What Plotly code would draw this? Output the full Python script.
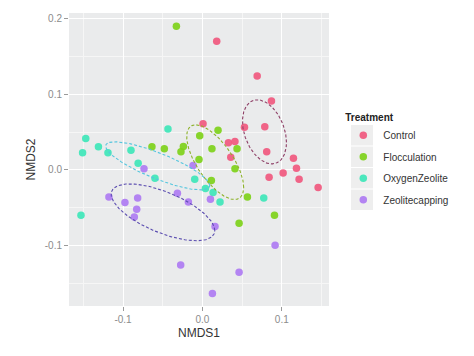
import numpy as np
import plotly.graph_objects as go

# ---- data ----
treatments = ["Control", "Flocculation", "OxygenZeolite", "Zeolitecapping"]

control_x = [0.018, 0.069, 0.087, 0.053, 0.0786, 0.081, 0.0008, 0.0328, 0.041, 0.0357,
             0.1147, 0.1185, 0.084, 0.1017, 0.1218, 0.1458]
control_y = [0.170, 0.124, 0.091, 0.0565, 0.057, 0.024, 0.061, 0.036, 0.0375, 0.0168,
             0.0155, 0.0022, -0.0097, -0.004, -0.0124, -0.0234]

floc_x = [-0.0328, 0.0197, -0.0034, -0.0636, -0.048, -0.024, -0.027, 0.012, 0.0436,
          -0.0043, 0.041, 0.0113, 0.0567, 0.0908, 0.0462]
floc_y = [0.190, 0.0525, 0.045, 0.0305, 0.028, 0.031, 0.024, 0.028, 0.028,
          0.0137, 0.0013, -0.0141, -0.0358, -0.060, -0.0707]

oxy_x = [-0.0434, -0.147, -0.131, -0.151, -0.119, -0.090, -0.081, -0.0598, -0.0097,
         0.0038, 0.0134, 0.0222, 0.0773, -0.153]
oxy_y = [0.054, 0.0415, 0.0305, 0.0225, 0.0225, 0.026, 0.0089, -0.011, -0.0123,
         -0.0247, -0.030, -0.0424, -0.0371, -0.060]

zeo_x = [-0.0736, -0.0118, -0.1178, -0.0976, -0.0816, -0.0828, -0.0858, -0.0315,
         -0.0177, 0.0101, 0.0159, 0.0916, -0.0274, 0.0462, 0.0126]
zeo_y = [0.0013, 0.0057, -0.0358, -0.0433, -0.0371, -0.052, -0.0623, -0.0309,
         -0.0424, -0.0389, -0.075, -0.0998, -0.126, -0.1355, -0.1634]

# ellipse statistics per treatment: centre, x half-extent, y half-extent, correlation
ell_cx = [0.0782, 0.0161, -0.0564, -0.0497]
ell_cy = [0.0503, 0.0102, 0.0053, -0.0562]
ell_rx = [0.0277, 0.0359, 0.0656, 0.0653]
ell_ry = [0.0424, 0.0494, 0.0318, 0.0376]
ell_r = [-0.33, -0.68, -0.82, -0.64]

x_ticks = [-0.1, 0.0, 0.1]
x_ticklabels = ["-0.1", "0.0", "0.1"]
y_ticks = [-0.1, 0.0, 0.1, 0.2]
y_ticklabels = ["-0.1", "0.0", "0.1", "0.2"]

# ---- styles ----
point_colors = ["#F0587E", "#7ED11A", "#3EE6B8", "#AE7BF2"]
ellipse_colors = ["#8E3F66", "#8DB22A", "#55C6DE", "#5B4DB0"]

xs = [control_x, floc_x, oxy_x, zeo_x]
ys = [control_y, floc_y, oxy_y, zeo_y]

fig = go.Figure()
for name, x, y, c in zip(treatments, xs, ys, point_colors):
    fig.add_trace(go.Scatter(x=x, y=y, mode="markers", name=name, legendgroup=name,
                             marker=dict(color=c, size=7.5, opacity=0.92, line=dict(width=0))))

t = np.linspace(0, 2 * np.pi, 200)
for i, c in enumerate(ellipse_colors):
    ex = ell_cx[i] + ell_rx[i] * np.cos(t)
    ey = ell_cy[i] + ell_ry[i] * (ell_r[i] * np.cos(t) + np.sqrt(1 - ell_r[i] ** 2) * np.sin(t))
    fig.add_trace(go.Scatter(x=ex, y=ey, mode="lines", showlegend=False, hoverinfo="skip",
                             legendgroup=treatments[i],
                             line=dict(color=c, width=1.1, dash="3px,2px")))

font_family = "Liberation Sans, Arial, sans-serif"
axis_common = dict(
    showgrid=True, gridcolor="white", gridwidth=1.2, zeroline=False,
    ticks="outside", ticklen=4, tickcolor="#9a9a9a", tickwidth=1,
    tickfont=dict(family=font_family, size=10, color="#8c8c8c"),
    showline=False,
    minor=dict(showgrid=True, gridcolor="#F6F6F6", gridwidth=0.6, ticks=""),
)

# the page body adds an 8px offset; geometry below is compensated for it
L, T = 61, 5
PW, PH = 260, 293

# key backgrounds for legend
shapes = []
for k in range(4):
    y0 = 125 + k * 21.5 - 8
    shapes.append(dict(type="rect", xref="paper", yref="paper",
                       x0=(351 - 69) / PW, x1=(373 - 69) / PW,
                       y0=(298 - (y0 + 20.5)) / PH, y1=(298 - y0) / PH,
                       fillcolor="#EEEEEE", line=dict(width=0), layer="below"))

fig.update_layout(
    width=466, height=348,
    margin=dict(l=L, r=145, t=T, b=50),
    paper_bgcolor="white", plot_bgcolor="#EAEBEC",
    font=dict(family=font_family),
    shapes=shapes,
    xaxis=dict(axis_common, range=[-0.1681, 0.1595], tickvals=x_ticks, ticktext=x_ticklabels,
               minor=dict(axis_common["minor"], tickvals=[-0.15, -0.05, 0.05, 0.15]),
               title=dict(text="NMDS1", font=dict(size=12, color="#333333"), standoff=4)),
    yaxis=dict(axis_common, range=[-0.1801, 0.2075], tickvals=y_ticks, ticktext=y_ticklabels,
               minor=dict(axis_common["minor"], tickvals=[-0.15, -0.05, 0.05, 0.15]),
               title=dict(text="NMDS2", font=dict(size=12, color="#333333"), standoff=6)),
    legend=dict(
        x=1.055, y=0.677, xanchor="left", yanchor="top",
        title=dict(text="<b>Treatment</b>", font=dict(size=10, color="#222222")),
        font=dict(size=10, color="#333333"),
        bgcolor="rgba(0,0,0,0)", itemwidth=30, tracegroupgap=2.5,
        traceorder="grouped",
    ),
)

fig.write_html("out.html")
